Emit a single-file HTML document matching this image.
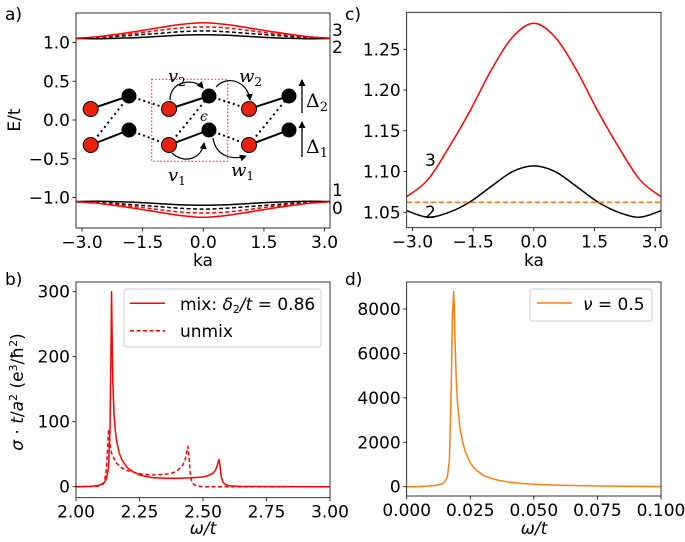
<!DOCTYPE html>
<html><head><meta charset="utf-8">
<style>
html,body{margin:0;padding:0;background:#fff;}
svg{display:block;font-family:"DejaVu Sans","Liberation Sans",sans-serif;}
.tk{font-size:17px;fill:#000;}
.it{font-family:"DejaVu Serif","Liberation Serif",serif;font-style:italic;}
</style></head>
<body>
<svg id="fig" width="685" height="542" viewBox="0 0 685 542" xmlns="http://www.w3.org/2000/svg"></svg>
<script>
// ---- Panel a data (13 samples k=-pi..pi) ----
const kSamples=[-3.1416,-2.618,-2.0944,-1.5708,-1.0472,-0.5236,0,0.5236,1.0472,1.5708,2.0944,2.618,3.1416];
const aRedSolid=[1.055,1.075,1.11,1.15,1.195,1.235,1.255,1.235,1.195,1.15,1.11,1.075,1.055];
const aRedDash=[1.055,1.07,1.095,1.125,1.16,1.19,1.2,1.19,1.16,1.125,1.095,1.07,1.055];
const aBlackDash=[1.055,1.065,1.08,1.1,1.12,1.14,1.15,1.14,1.12,1.1,1.08,1.065,1.055];
const aBlackSolid=[1.052,1.048,1.055,1.065,1.08,1.095,1.1,1.095,1.08,1.065,1.055,1.048,1.052];
const aYTicks=[-1.0,-0.5,0.0,0.5,1.0];
const aYTickLabels=["\u22121.0","\u22120.5","0.0","0.5","1.0"];
const kTicks=[-3.0,-1.5,0.0,1.5,3.0];
const kTickLabels=["\u22123.0","\u22121.5","0.0","1.5","3.0"];
// ---- Panel c data ----
const cBand3=[1.069,1.09,1.13,1.175,1.225,1.265,1.282,1.265,1.225,1.175,1.13,1.09,1.069];
const cBand2=[1.052,1.044,1.05,1.063,1.082,1.1,1.107,1.1,1.082,1.063,1.05,1.044,1.052];
const cFermi=1.0623;
const cYTicks=[1.05,1.10,1.15,1.20,1.25];
const cYTickLabels=["1.05","1.10","1.15","1.20","1.25"];
// ---- Panel b data ----
const bMixW=[2.0,2.06,2.09,2.11,2.12,2.128,2.134,2.138,2.14,2.142,2.145,2.15,2.155,2.16,2.17,2.18,2.2,2.22,2.25,2.3,2.35,2.4,2.45,2.5,2.52,2.54,2.55,2.558,2.563,2.567,2.572,2.58,2.59,2.6,2.65,3.0];
const bMixS=[0,0.5,2,6,12,30,90,220,300,240,160,110,85,70,52,42,30,24,18,14,13,13,13.5,15,17,21,26,35,42,32,15,6,3,1.5,0.3,0];
const bUnW=[2.0,2.08,2.1,2.11,2.118,2.124,2.128,2.131,2.135,2.14,2.15,2.16,2.18,2.2,2.25,2.3,2.35,2.38,2.4,2.42,2.43,2.437,2.441,2.445,2.45,2.455,2.465,2.48,2.5,3.0];
const bUnS=[0,0.5,2,6,20,55,88,80,62,52,43,36,29,25,20,18,19,21,25,33,42,55,62,45,20,8,3,1,0,0];
const bXTicks=[2.0,2.25,2.5,2.75,3.0];
const bXTickLabels=["2.00","2.25","2.50","2.75","3.00"];
const bYTicks=[0,100,200,300];
// ---- Panel d data ----
const dW=[0,0.005,0.01,0.012,0.014,0.015,0.016,0.0168,0.0175,0.018,0.0185,0.019,0.0195,0.02,0.021,0.022,0.023,0.025,0.027,0.03,0.033,0.036,0.04,0.045,0.05,0.06,0.07,0.08,0.09,0.1];
const dS=[0,10,40,70,130,220,450,1200,4500,7800,8800,6600,4800,3700,2600,2000,1600,1070,780,520,380,290,210,150,110,65,40,25,15,8];
const dXTicks=[0,0.025,0.05,0.075,0.1];
const dXTickLabels=["0.000","0.025","0.050","0.075","0.100"];
const dYTicks=[0,2000,4000,6000,8000];

const NS="http://www.w3.org/2000/svg";
const svg=document.getElementById('fig');
function mk(tag,attrs,parent){const e=document.createElementNS(NS,tag);for(const k in attrs)e.setAttribute(k,attrs[k]);(parent||svg).appendChild(e);return e;}
function lin(d0,d1,r0,r1){return v=>r0+(v-d0)/(d1-d0)*(r1-r0);}
function smoothPath(xs,ys){
  let d="M"+xs[0].toFixed(2)+","+ys[0].toFixed(2);
  for(let i=0;i<xs.length-1;i++){
    const x0=xs[Math.max(i-1,0)],y0=ys[Math.max(i-1,0)],x1=xs[i],y1=ys[i],x2=xs[i+1],y2=ys[i+1],x3=xs[Math.min(i+2,xs.length-1)],y3=ys[Math.min(i+2,xs.length-1)];
    d+=" C"+(x1+(x2-x0)/6).toFixed(2)+","+(y1+(y2-y0)/6).toFixed(2)+" "+(x2-(x3-x1)/6).toFixed(2)+","+(y2-(y3-y1)/6).toFixed(2)+" "+x2.toFixed(2)+","+y2.toFixed(2);
  }
  return d;
}
function polyPath(xs,ys){return xs.map((x,i)=>(i?"L":"M")+x.toFixed(2)+","+ys[i].toFixed(2)).join(" ");}
function frame(x0,y0,x1,y1,name){
  const r=mk('rect',{x:x0,y:y0,width:x1-x0,height:y1-y0,fill:'none',stroke:'#000','stroke-width':0.8});
  
  
}
function xticks(vals,labels,sx,yb,name){
  const g=mk('g',{});
  
  
  vals.forEach((v,i)=>{const x=sx(v);mk('line',{x1:x,x2:x,y1:yb,y2:yb+3.5,stroke:'#000','stroke-width':0.8},g);
    const t=mk('text',{x:x,y:yb+20,'text-anchor':'middle',class:'tk'},g);t.textContent=labels[i];});
}
function yticks(vals,labels,sy,xl,name){
  const g=mk('g',{});
  
  
  vals.forEach((v,i)=>{const y=sy(v);mk('line',{x1:xl-3.5,x2:xl,y1:y,y2:y,stroke:'#000','stroke-width':0.8},g);
    const t=mk('text',{x:xl-6,y:y+6,'text-anchor':'end',class:'tk'},g);t.textContent=labels[i];});
}
function txt(x,y,s,attrs,name){const t=mk('text',Object.assign({x:x,y:y,class:'tk'},attrs||{}));t.textContent=s;return t;}
function curve(d,stroke,dash,name,w){const p=mk('path',{d:d,fill:'none',stroke:stroke,'stroke-width':w||1.5,'stroke-linejoin':'round'});if(dash)p.setAttribute('stroke-dasharray',dash);return p;}

// ===== Panel a =====
const ax=lin(-Math.PI,Math.PI,76.3,330.3), ay=lin(0,1,120,42.5);
const clipA=mk('clipPath',{id:'ca'});mk('rect',{x:76,y:13,width:254,height:215},clipA);
const ga=mk('g',{'clip-path':'url(#ca)'});


const kx=kSamples.map(ax);
[[aBlackSolid,'#000',null,'band-2'],[aBlackDash,'#000','4,2.5','band-black-dashed'],[aRedDash,'#f00','4,2.5','band-red-dashed'],[aRedSolid,'#f00',null,'band-3']].forEach(([arr,c,da,n])=>{
  const p=curve(smoothPath(kx,arr.map(ay)),c,da,n+'-upper');ga.appendChild(p);
  const q=curve(smoothPath(kx,arr.map(v=>ay(-v))),c,da,n+'-lower');ga.appendChild(q);
});
frame(76,13,330,228,'panel-a-frame');
yticks(aYTicks,aYTickLabels,ay,76,'panel-a-y-ticks');
xticks(kTicks,kTickLabels,ax,228,'panel-a-x-ticks');
txt(5,20,'a)',{},'panel-a-label');
txt(203,266,'ka',{'text-anchor':'middle'},'panel-a-x-title');
txt(20,120,'E/t',{'text-anchor':'middle',transform:'rotate(-90 20 120)'},'panel-a-y-title');
txt(332,36,'3',{},'band-label-3');txt(332,53,'2',{},'band-label-2');
txt(332,196,'1',{},'band-label-1');txt(332,214,'0',{},'band-label-0');

// lattice inset
const gi=mk('g',{});


const redX=[90.7,169,249], blkX=[129,209,289];
const rows=[[109,96],[145,130]];
mk('rect',{x:151.7,y:79.3,width:76,height:82,fill:'none',stroke:'#e33','stroke-width':1.2,'stroke-dasharray':'1.5,2'},gi);
rows.forEach(([ry,by])=>{
  for(let i=0;i<3;i++){
    mk('line',{x1:redX[i],y1:ry,x2:blkX[i],y2:by,stroke:'#000','stroke-width':2},gi);
    if(i<2)mk('line',{x1:blkX[i],y1:by,x2:redX[i+1],y2:ry,stroke:'#000','stroke-width':2,'stroke-dasharray':'2,3'},gi);
  }
});
for(let i=0;i<3;i++)mk('line',{x1:redX[i],y1:145,x2:blkX[i],y2:96,stroke:'#000','stroke-width':2,'stroke-dasharray':'2,3.5'},gi);
mk('defs',{},gi).innerHTML='<marker id="ah" markerWidth="8" markerHeight="8" refX="6" refY="4" orient="auto" markerUnits="userSpaceOnUse"><path d="M0,0.5 L7,4 L0,7.5 z" fill="#000"/></marker>';
rows.forEach(([ry,by])=>{
  redX.forEach(x=>mk('circle',{cx:x,cy:ry,r:7.5,fill:'#e8220e',stroke:'#000','stroke-width':1},gi));
  blkX.forEach(x=>mk('circle',{cx:x,cy:by,r:7.5,fill:'#000'},gi));
});
mk('path',{d:'M170,100 C170,80 195,78 203,88',fill:'none',stroke:'#000','stroke-width':1.2,'marker-end':'url(#ah)'},gi);
mk('path',{d:'M216,87 C228,74 248,82 250,100',fill:'none',stroke:'#000','stroke-width':1.2,'marker-end':'url(#ah)'},gi);
mk('path',{d:'M172,153 C185,165 202,158 204,143',fill:'none',stroke:'#000','stroke-width':1.2,'marker-end':'url(#ah)'},gi);
mk('path',{d:'M213,138 C216,158 235,160 246,156',fill:'none',stroke:'#000','stroke-width':1.2,'marker-end':'url(#ah)'},gi);
mk('line',{x1:302,y1:113,x2:302,y2:80,stroke:'#000','stroke-width':1.3,'marker-end':'url(#ah)'},gi);
mk('line',{x1:302,y1:157,x2:302,y2:122,stroke:'#000','stroke-width':1.3,'marker-end':'url(#ah)'},gi);
const lbl=(x,y,s,sub,n,fs)=>{const t=mk('text',{x:x,y:y,class:'it','font-size':fs||18},gi);t.innerHTML=s+'<tspan font-size="12" dy="4" font-style="normal">'+sub+'</tspan>';};
lbl(168,82,'v','2','label-v2');lbl(239,82,'w','2','label-w2');
lbl(168,181,'v','1','label-v1');lbl(231,176,'w','1','label-w1');
const eps=mk('text',{x:200,y:121,class:'it','font-size':14},gi);eps.textContent='\u03f5';
const d2=mk('text',{x:306,y:107,'font-family':'DejaVu Serif,serif','font-size':19},gi);d2.innerHTML='\u0394<tspan font-size="13" dy="4">2</tspan>';
const d1=mk('text',{x:306,y:153,'font-family':'DejaVu Serif,serif','font-size':19},gi);d1.innerHTML='\u0394<tspan font-size="13" dy="4">1</tspan>';

// ===== Panel c =====
const cx=lin(-Math.PI,Math.PI,406.7,661), cy=lin(1.05,1.25,212.3,49.3);
const ckx=kSamples.map(cx);
curve(smoothPath(ckx,cBand3.map(cy)),'#f00',null,'panel-c-band-3');
curve(smoothPath(ckx,cBand2.map(cy)),'#000',null,'panel-c-band-2');
const fl=mk('line',{x1:406.7,x2:661,y1:cy(cFermi),y2:cy(cFermi),stroke:'#ff7f0e','stroke-width':1.5,'stroke-dasharray':'5.5,2.5'});


frame(406.7,12.3,661,227.7,'panel-c-frame');
yticks(cYTicks,cYTickLabels,cy,406.7,'panel-c-y-ticks');
xticks(kTicks,kTickLabels,cx,227.7,'panel-c-x-ticks');
txt(345,20,'c)',{},'panel-c-label');
txt(534,266,'ka',{'text-anchor':'middle'},'panel-c-x-title');
txt(425,166,'3',{},'panel-c-label-3');txt(425,218,'2',{},'panel-c-label-2');

// ===== Panel b =====
const bx=lin(2,3,76,330), by=lin(0,300,486.7,291.7);
const clipB=mk('clipPath',{id:'cb'});mk('rect',{x:76,y:282,width:254,height:216},clipB);
const gb=mk('g',{'clip-path':'url(#cb)'});


gb.appendChild(curve(polyPath(bUnW.map(bx),bUnS.map(by)),'#f00','4,2.5','unmix-line'));
gb.appendChild(curve(polyPath(bMixW.map(bx),bMixS.map(by)),'#f00',null,'mix-line'));
frame(76,282,330,497.7,'panel-b-frame');
yticks(bYTicks,bYTicks.map(String),by,76,'panel-b-y-ticks');
xticks(bXTicks,bXTickLabels,bx,497.7,'panel-b-x-ticks');
txt(5,285,'b)',{},'panel-b-label');
const bxt=txt(203,534,'',{'text-anchor':'middle'},'panel-b-x-title');bxt.innerHTML='<tspan font-style="italic">\u03c9/t</tspan>';
const byt=txt(23,392,'',{'text-anchor':'middle',transform:'rotate(-90 23 392)'},'panel-b-y-title');
byt.innerHTML='<tspan font-style="italic">\u03c3</tspan> \u00b7 <tspan font-style="italic">t</tspan>/<tspan font-style="italic">a</tspan><tspan font-size="11" dy="-6">2</tspan><tspan dy="6"> (e</tspan><tspan font-size="11" dy="-6">3</tspan><tspan dy="6">/\u0127</tspan><tspan font-size="11" dy="-6">2</tspan><tspan dy="6">)</tspan>';
const lb=mk('g',{});


mk('rect',{x:124,y:289,width:197,height:58,rx:3,fill:'#fff',stroke:'#ccc','stroke-width':1},lb);
mk('line',{x1:130,x2:165,y1:303.3,y2:303.3,stroke:'#f00','stroke-width':1.5},lb);
mk('line',{x1:130,x2:165,y1:330.7,y2:330.7,stroke:'#f00','stroke-width':1.5,'stroke-dasharray':'4,2.5'},lb);
const lt1=mk('text',{x:180,y:310,class:'tk'},lb);lt1.innerHTML='mix: <tspan font-style="italic">\u03b4</tspan><tspan font-size="11" dy="3">2</tspan><tspan dy="-3" font-style="italic">/t</tspan> = 0.86';
const lt2=mk('text',{x:180,y:337,class:'tk'},lb);lt2.textContent='unmix';

// ===== Panel d =====
const dx=lin(0,0.1,406.7,661), dy=lin(0,8000,486.7,309);
curve(polyPath(dW.map(dx),dS.map(dy)),'#ff7f0e',null,'nu-0.5-line');
frame(406.7,282,661,496,'panel-d-frame');
yticks(dYTicks,dYTicks.map(String),dy,406.7,'panel-d-y-ticks');
xticks(dXTicks,dXTickLabels,dx,496,'panel-d-x-ticks');
txt(345,285,'d)',{},'panel-d-label');
const dxt=txt(534,534,'',{'text-anchor':'middle'},'panel-d-x-title');dxt.innerHTML='<tspan font-style="italic">\u03c9/t</tspan>';
const ld=mk('g',{});


mk('rect',{x:530,y:289,width:122,height:32,rx:3,fill:'#fff',stroke:'#ccc','stroke-width':1},ld);
mk('line',{x1:537,x2:572,y1:303,y2:303,stroke:'#ff7f0e','stroke-width':1.5},ld);
const lt3=mk('text',{x:583,y:310,class:'tk'},ld);lt3.innerHTML='<tspan font-style="italic">\u03bd</tspan> = 0.5';
</script>
</body></html>
